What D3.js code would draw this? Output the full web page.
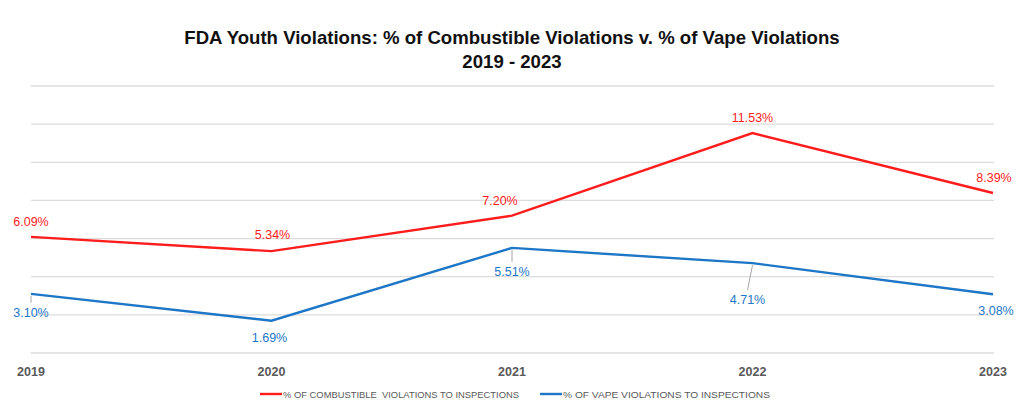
<!DOCTYPE html>
<html>
<head>
<meta charset="utf-8">
<script src="https://cdn.jsdelivr.net/npm/d3@7"></script>
<style>
  body { margin: 0; background: #fff; }
  svg { display: block; }
</style>
</head>
<body>
<svg id="chart" width="1024" height="409"></svg>
<script>
// data
const years = ["2019", "2020", "2021", "2022", "2023"];
const combustible = [6.09, 5.34, 7.20, 11.53, 8.39];
const vape = [3.10, 1.69, 5.51, 4.71, 3.08];
const yTicks = [0, 2, 4, 6, 8, 10, 12, 14];
const seriesNames = ["% OF COMBUSTIBLE  VIOLATIONS TO INSPECTIONS", "% OF VAPE VIOLATIONS TO INSPECTIONS"];

// label placement (dx, dy from point)
const redLabelPos = [[0, -15], [1, -16], [-12, -15], [0, -15], [1, -15]];
const blueLabelPos = [[0, 19], [-2, 17], [0, 24], [-5, 37], [3, 17]];

const svg = d3.select("#chart");
const font = "Liberation Sans, Arial, sans-serif";
const red = "#ff1c1c", blue = "#1d76c6";

const x = d3.scalePoint().domain(years).range([31, 993]);
const y = d3.scaleLinear().domain([0, 14]).range([353, 86]);

// gridlines
svg.append("g").selectAll("line")
  .data(yTicks)
  .enter().append("line")
  .attr("x1", 31).attr("x2", 994)
  .attr("y1", d => y(d)).attr("y2", d => y(d))
  .attr("stroke", "#dcdcdc").attr("stroke-width", 1.3);

// x axis labels
svg.append("g").selectAll("text")
  .data(years)
  .enter().append("text")
  .attr("x", d => x(d)).attr("y", 376)
  .attr("text-anchor", "middle")
  .attr("font-family", font).attr("font-weight", "bold").attr("font-size", 12.5)
  .attr("fill", "#595959")
  .text(d => d);

// title
const title = svg.append("text").attr("text-anchor", "middle")
  .attr("font-family", font).attr("font-weight", "bold").attr("font-size", 18.6)
  .attr("fill", "#111");
title.append("tspan").attr("x", 512).attr("y", 44).text("FDA Youth Violations: % of Combustible Violations v. % of Vape Violations");
title.append("tspan").attr("x", 512).attr("y", 68).text("2019 - 2023");

const line = d3.line().x((d, i) => x(years[i])).y(d => y(d));

function drawSeries(values, color, pos, leader) {
  svg.append("path").datum(values)
    .attr("d", line)
    .attr("fill", "none").attr("stroke", color).attr("stroke-width", 2.4)
    .attr("stroke-linejoin", "miter");

  const g = svg.append("g");
  values.forEach((v, i) => {
    const px = x(years[i]), py = y(v);
    const lx = px + pos[i][0], ly = py + pos[i][1];
    if (leader && pos[i][1] > 18) {
      g.append("line")
        .attr("x1", px).attr("y1", py + 2)
        .attr("x2", lx).attr("y2", ly - 10)
        .attr("stroke", "#a6a6a6").attr("stroke-width", 1);
    }
    g.append("text")
      .attr("x", lx).attr("y", ly + 4)
      .attr("text-anchor", "middle")
      .attr("font-family", font).attr("font-size", 12.5)
      .attr("fill", color)
      .text(v.toFixed(2) + "%");
  });
}

drawSeries(combustible, red, redLabelPos, false);
drawSeries(vape, blue, blueLabelPos, true);

// legend
const legend = svg.append("g");
[[260, red, 236], [540, blue, 207]].forEach((d, i) => {
  legend.append("line")
    .attr("x1", d[0]).attr("x2", d[0] + 22)
    .attr("y1", 394).attr("y2", 394)
    .attr("stroke", d[1]).attr("stroke-width", 2.4);
  legend.append("text")
    .attr("x", d[0] + 23).attr("y", 397.5)
    .attr("font-family", font).attr("font-size", 9.4)
    .attr("fill", "#595959")
    .attr("textLength", d[2]).attr("lengthAdjust", "spacingAndGlyphs")
    .style("white-space", "pre")
    .text(seriesNames[i]);
});
</script>
</body>
</html>
